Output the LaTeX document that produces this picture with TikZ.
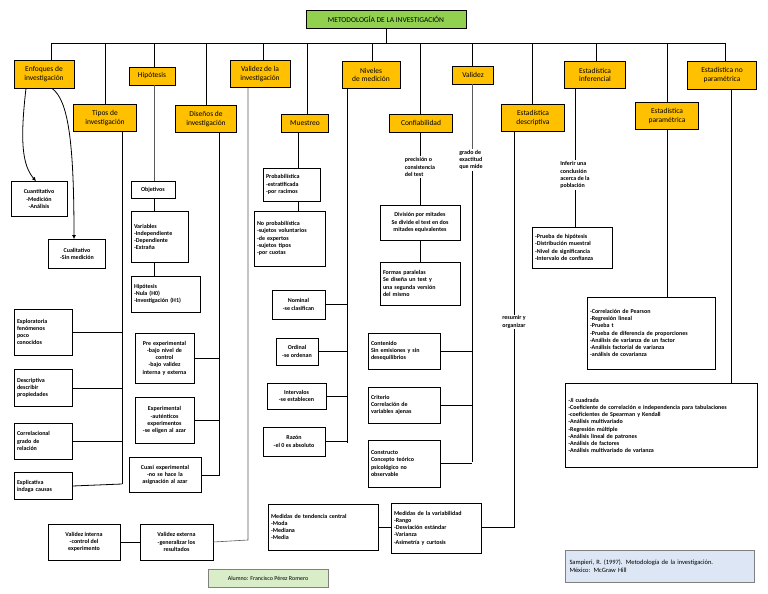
\documentclass[tikz,border=0pt]{standalone}
\usepackage{fontspec}
\setmainfont{Carlito}
\usetikzlibrary{arrows.meta}
\definecolor{hdr}{HTML}{FFC000}
\definecolor{ttl}{HTML}{92D050}
\definecolor{alu}{HTML}{D8EDC8}
\definecolor{ref}{HTML}{DCE6F4}
\hyphenpenalty=10000
\begin{document}
\begin{tikzpicture}[x=1pt,y=-1pt,
  hd/.style={draw,fill=hdr,line width=0.8pt,align=center,font=\fontsize{7.5}{8.5}\selectfont,inner sep=1pt},
  bx/.style={draw,line width=0.8pt,align=center,font=\fontsize{6}{7.2}\selectfont\bfseries,inner sep=2pt},
  bl/.style={bx,align=left},
  ln/.style={line width=0.8pt},
  gl/.style={line width=0.6pt,gray!70!black},
  lb/.style={font=\fontsize{6}{7.2}\selectfont\bfseries,align=left,inner sep=1pt}]
\useasboundingbox (0,0) rectangle (768,594);
% title
\node[hd,fill=ttl,minimum width=160,minimum height=18] (t) at (386,19) {METODOLOGÍA DE LA INVESTIGACIÓN};
\coordinate (tb) at (386,43);
\coordinate (bl) at (51,43); \coordinate (br) at (725,43);
\draw[ln] (t.south) -- (tb);
\draw[ln] (bl) -- (br);
% headers
\node[hd,minimum width=60,minimum height=28] (enf) at (44,74) {Enfoques de\\investigación};
\node[hd,minimum width=63,minimum height=27] (tip) at (105,118) {Tipos de\\investigación};
\node[hd,minimum width=46,minimum height=18] (hip) at (152,76) {Hipótesis};
\node[hd,minimum width=61,minimum height=27] (dis) at (206,119) {Diseños de\\investigación};
\node[hd,minimum width=60,minimum height=27] (vin) at (260,74) {Validez de la\\investigación};
\node[hd,minimum width=47,minimum height=18] (mue) at (305,123) {Muestreo};
\node[hd,minimum width=58,minimum height=27] (niv) at (371,75) {Niveles\\de medición};
\node[hd,minimum width=63,minimum height=18] (con) at (421,123) {Confiabilidad};
\node[hd,minimum width=41,minimum height=18] (val) at (473,75) {Validez};
\node[hd,minimum width=63,minimum height=27] (des) at (533,118) {Estadística\\descriptiva};
\node[hd,minimum width=61,minimum height=27] (inf) at (595,75) {Estadística\\inferencial};
\node[hd,minimum width=63,minimum height=27] (par) at (667,116) {Estadística\\paramétrica};
\node[hd,minimum width=69,minimum height=28] (npa) at (722,75) {Estadística no\\paramétrica};
\foreach \n/\xx in {enf/51,tip/105,hip/154,dis/206,vin/263,mue/307,niv/372,con/420,val/472,des/532,inf/596,par/667,npa/725}
  \draw[ln] (\xx,43) -- (\n.north -| \xx,0);
% Enfoques
\node[bx,minimum width=56,minimum height=35] (cuan) at (39,199) {Cuantitativo\\-Medición\\-Análisis};
\node[bx,minimum width=57,minimum height=29] (cual) at (77,254) {Cualitativo\\-Sin medición};
\draw[ln,-{Latex[length=4pt,width=4pt]}] (enf.south -| 26,0) .. controls (20,140) and (22,165) .. (cuan.north -| 36,0);
\draw[ln,-{Latex[length=4pt,width=4pt]}] (enf.south -| 52,0) .. controls (68,100) and (74,140) .. (cual.north -| 74,0);
% Tipos
\coordinate (tipb) at (122,484);
\draw[ln] (tip.south -| 122,0) -- (tipb);
\node[bl,minimum width=58,minimum height=46,text width=52] (exp) at (43,332) {Exploratoria\\fenómenos\\poco\\conocidos};
\node[bl,minimum width=58,minimum height=37,text width=52] (dsc) at (43,388) {Descriptiva\\describir\\propiedades};
\node[bl,minimum width=58,minimum height=36,text width=52] (cor) at (43,441) {Correlacional\\grado de\\relación};
\node[bl,minimum width=58,minimum height=27,text width=52] (exl) at (43,486) {Explicativa\\indaga causas};
\foreach \n in {exp,dsc,cor} \draw[ln] (\n.east) -- (\n.east -| tipb);
\draw[ln] (exl.east) -- (tipb);
% Hipotesis
\node[bx,minimum width=44,minimum height=17] (obj) at (153,190) {Objetivos};
\node[bl,minimum width=57,minimum height=51,text width=51] (var) at (159.5,237) {Variables\\-Independiente\\-Dependiente\\-Extraña};
\node[bl,minimum width=69,minimum height=36,text width=63] (hbx) at (165.5,294) {Hipótesis\\-Nula (H0)\\-Investigación (H1)};
\draw[gl] (hip.south -| 154,0) -- (obj.north -| 154,0);
\draw[ln] (obj.south -| 154,0) -- (var.north -| 154,0);
\draw[ln] (var.south -| 154,0) -- (hbx.north -| 154,0);
% Diseños
\coordinate (disb) at (219,476);
\draw[ln] (dis.south -| 219,0) -- (disb);
\node[bx,minimum width=59,minimum height=50,text width=55] (pre) at (164.5,358) {Pre experimental\\-bajo nivel de\\control\\-bajo validez\\interna y externa};
\node[bx,minimum width=59,minimum height=46,text width=55] (exm) at (164.5,420) {Experimental\\-auténticos\\experimentos\\-se eligen al azar};
\node[bx,minimum width=72,minimum height=35,text width=68] (cua) at (165,475) {Cuasi experimental\\-no se hace la\\asignación al azar};
\foreach \n in {pre,exm} \draw[ln] (\n.east) -- (\n.east -| disb);
\draw[ln] (cua.east) -- (cua.east -| disb);
% Validez de la investigacion
\node[bx,minimum width=73,minimum height=36] (vex) at (176.5,542) {Validez externa\\-generalizar los\\resultados};
\node[bx,minimum width=72,minimum height=36] (vit) at (84,542) {Validez interna\\-control del\\experimento};
\draw[gl] (vin.south -| 248,0) -- (248,540) -- (vex.east);
\draw[ln] (vit) -- (vex);
% Muestreo
\node[bl,minimum width=57,minimum height=33,text width=51] (pro) at (291.5,184.5) {Probabilística\\-estratificada\\-por racimos};
\node[bl,minimum width=71,minimum height=55,text width=65] (npr) at (289.5,238.5) {No probabilística\\-sujetos voluntarios\\-de expertos\\-sujetos tipos\\-por cuotas};
\draw[ln] (mue.south -| 298,0) -- (pro.north -| 298,0);
\draw[ln] (pro.south -| 298,0) -- (npr.north -| 298,0);
% Niveles
\coordinate (nivb) at (347,443);
\draw[ln] (niv.south -| 347,0) -- (nivb);
\node[bx,minimum width=53,minimum height=29] (nom) at (298.5,304.5) {Nominal\\-se clasifican};
\node[bx,minimum width=42,minimum height=27] (ord) at (297,351.5) {Ordinal\\-se ordenan};
\node[bx,minimum width=59,minimum height=26] (int) at (296.5,396) {Intervalos\\-se establecen};
\node[bx,minimum width=62,minimum height=29] (raz) at (294,441.5) {Razón\\-el 0 es absoluto};
\foreach \n in {nom,ord,int} \draw[ln] (\n.east) -- (\n.east -| nivb);
\draw[ln] (raz.east) -- (raz.east -| nivb);
% Confiabilidad
\node[lb] (pcl) at (420,167) {precisión o\\consistencia\\del test};
\node[bx,minimum width=80,minimum height=35] (div) at (420,222.5) {División por mitades\\Se divide el test en dos\\mitades equivalentes};
\node[bl,minimum width=80,minimum height=43,text width=74] (for) at (420,283.5) {Formas paralelas\\Se diseña un test y\\una segunda versión\\del mismo};
\draw[ln] (con.south -| 420,0) -- (pcl.north -| 420,0);
\draw[ln] (pcl.south -| 420,0) -- (div.north -| 420,0);
\draw[ln] (div.south -| 420,0) -- (for.north -| 420,0);
% Validez
\node[lb] (gra) at (471,160) {grado de\\exactitud\\que mide};
\coordinate (valb) at (472,462);
\draw[gl] (val.south -| 472,0) -- (gra.north -| 472,0);
\draw[ln] (gra.south -| 472,0) -- (valb);
\node[bl,minimum width=72,minimum height=36,text width=66] (cnt) at (404,351) {Contenido\\Sin emisiones y sin\\desequilibrios};
\node[bl,minimum width=72,minimum height=36,text width=66] (cri) at (404,405) {Criterio\\Correlación de\\variables ajenas};
\node[bl,minimum width=72,minimum height=47,text width=66] (cto) at (404,463.5) {Constructo\\Concepto teórico\\psicológico no\\observable};
\foreach \n in {cnt,cri} \draw[ln] (\n.east) -- (\n.east -| valb);
\draw[ln] (cto.east) -- (cto.east -| valb);
% Descriptiva
\node[lb] (res) at (514,322) {resumir y\\organizar};
\node[bl,minimum width=90,minimum height=50,text width=84] (mva) at (436,528) {Medidas de la variabilidad\\-Rango\\-Desviación estándar\\-Varianza\\-Asimetría y curtosis};
\node[bl,minimum width=110,minimum height=46,text width=104] (mtc) at (323,527) {Medidas de tendencia central\\-Moda\\-Mediana\\-Media};
\draw[ln] (des.south -| 514,0) -- (res.north -| 514,0);
\draw[ln] (res.south -| 514,0) -- (514,527) -- (mva.east |- 514,527);
\draw[ln] (mtc.east) -- (mtc.east -| mva.west);
% Inferencial
\node[lb] (inq) at (575,175) {Inferir una\\conclusión\\acerca de la\\población};
\node[bl,minimum width=80,minimum height=41,text width=74] (ibx) at (572,247.5) {-Prueba de hipótesis\\-Distribución muestral\\-Nivel de significancia\\-Intervalo de confianza};
\draw[ln] (inf.south -| 575,0) -- (inq.north -| 575,0);
\draw[ln] (inq.south -| 575,0) -- (ibx.north -| 575,0);
% Parametrica
\node[bl,minimum width=128,minimum height=72,text width=122] (pbx) at (651,333) {-Correlación de Pearson\\-Regresión lineal\\-Prueba t\\-Prueba de diferencia de proporciones\\-Análisis de varianza de un factor\\-Análisis factorial de varianza\\-análisis de covarianza};
\draw[ln] (par.south) -- (pbx.north -| par.south);
% No parametrica
\node[bl,minimum width=192,minimum height=84,text width=186,anchor=north west] (nbx) at (565,383) {-Ji cuadrada\\-Coeficiente de correlación e independencia para tabulaciones\\-coeficientes de Spearman y Kendall\\-Análisis multivariado\\-Regresión múltiple\\-Análisis lineal de patrones\\-Análisis de factores\\-Análisis multivariado de varianza};
\draw[ln] (npa.south -| 731,0) -- (nbx.north -| 731,0);
% footer
\node[draw=gray,fill=alu,minimum width=120,minimum height=18,font=\fontsize{6}{7}\selectfont] (alm) at (268,578) {Alumno: Francisco Pérez Romero};
\node[draw=gray,fill=ref,minimum width=189,minimum height=32,text width=180,align=left,font=\fontsize{6.5}{8}\selectfont] (sam) at (659.5,566) {Sampieri, R. (1997). Metodología de la investigación.\\México: McGraw Hill};
\end{tikzpicture}
\end{document}
